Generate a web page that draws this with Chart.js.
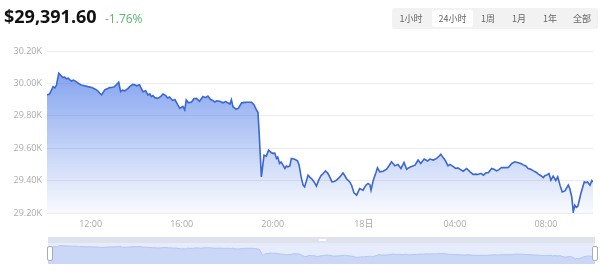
<!DOCTYPE html>
<html>
<head>
<meta charset="utf-8">
<script src="https://cdn.jsdelivr.net/npm/chart.js@4"></script>
<style>
  html, body { margin:0; padding:0; background:#fff; width:600px; height:273px; overflow:hidden; font-family:"Open Sans","Noto Sans",sans-serif; }
  #main { position:absolute; left:0; top:0; }
  .price { position:absolute; left:4px; top:4px; font-size:18px; font-weight:700; color:#111; letter-spacing:0; }
  .chg { position:absolute; left:105px; top:10px; font-size:12px; color:#5cb46c; }
  .btns { position:absolute; left:392px; top:8px; width:206px; height:21px; background:#f2f2f2; border-radius:2px; }
  .btn { position:absolute; top:0; height:21px; line-height:21px; font-size:9px; color:#666; text-align:center; font-family:"Noto Sans CJK SC","Noto Sans",sans-serif; }
  .btn.sel { background:#fff; top:2px; height:17px; line-height:17px; border-radius:2px; }
  #navWrap { position:absolute; left:48px; top:237px; width:547px; height:27px; background:#e6ecfb; }
  #navStrip { position:absolute; left:0; top:0; width:547px; height:6px; background:#dde2ec; }
  #navCanvas { position:absolute; left:0; top:6px; }
  .handle { position:absolute; top:246px; width:4px; height:13px; background:#fff; border:1px solid #aab; border-radius:2px; }
  .grip { position:absolute; left:319px; top:239px; width:7px; height:2px; background:#fff; border-radius:1px; }
</style>
</head>
<body>
<canvas id="main" width="600" height="273"></canvas>
<div class="price">$29,391.60</div>
<div class="chg">-1.76%</div>
<div class="btns" id="btns"></div>
<div id="navWrap"><div id="navStrip"></div><canvas id="navCanvas" width="547" height="21"></canvas></div>
<div class="grip"></div>
<div class="handle" style="left:47px"></div>
<div class="handle" style="left:592px"></div>
<script>
// minutes since 10:00 (17th)
const times = [5,12,21,26,30,36,41,47,51,56,61,69,75,82,88,95,104,113,123,131,138,144,149,157,165,170,178,183,189,194,199,204,210,218,223,231,236,241,249,253,258,265,271,276,280,284,289,297,305,311,318,323,328,336,342,349,355,363,368,372,378,386,392,399,407,416,423,429,436,442,447,452,460,469,476,487,491,495,504,510,518,526,534,544,550,557,561,564,570,574,577,583,589,595,601,605,610,613,618,622,627,632,636,640,645,649,658,665,669,671,675,680,684,693,698,702,709,715,721,727,733,739,745,750,756,762,768,777,781,785,790,794,803,808,814,821,826,829,838,845,851,856,859,865,872,876,882,891,900,906,913,922,930,938,946,953,959,964,975,983,990,999,1008,1014,1023,1032,1038,1043,1048,1054,1062,1067,1073,1082,1088,1093,1102,1111,1120,1128,1135,1141,1149,1155,1162,1168,1177,1183,1190,1196,1203,1212,1221,1230,1238,1247,1254,1260,1267,1273,1280,1287,1294,1300,1307,1313,1317,1322,1328,1333,1339,1346,1351,1357,1363,1370,1379,1383,1388,1392,1396,1400,1404,1408,1412,1421,1425,1430,1433,1436,1441,1444];
const prices = [29929,29935,29980,29972,29990,30063,30050,30036,30040,30028,30032,30015,30020,30011,30000,29990,29985,29980,29975,29966,29955,29939,29929,29960,29968,29974,29976,29980,29995,30007,29949,29958,29954,29968,29980,29994,29991,29985,29992,29970,29949,29955,29929,29935,29918,29925,29912,29908,29920,29935,29925,29910,29916,29895,29900,29870,29846,29858,29836,29898,29880,29885,29905,29908,29890,29919,29912,29922,29900,29895,29885,29893,29890,29880,29888,29873,29900,29856,29840,29848,29880,29883,29884,29884,29870,29836,29822,29700,29423,29500,29557,29551,29588,29575,29567,29570,29537,29545,29506,29515,29495,29475,29490,29485,29490,29537,29532,29522,29500,29475,29420,29372,29361,29434,29420,29413,29392,29366,29403,29430,29444,29460,29445,29423,29392,29395,29403,29423,29435,29448,29430,29413,29392,29370,29324,29310,29335,29351,29341,29370,29382,29375,29341,29403,29450,29479,29454,29458,29470,29490,29516,29491,29500,29475,29512,29470,29480,29485,29495,29527,29506,29533,29521,29533,29527,29537,29550,29562,29545,29527,29491,29500,29491,29475,29478,29471,29458,29475,29454,29438,29440,29438,29445,29434,29448,29448,29475,29470,29460,29468,29481,29480,29481,29506,29516,29510,29505,29497,29490,29475,29470,29460,29452,29440,29430,29419,29430,29434,29444,29403,29428,29400,29424,29372,29330,29336,29372,29350,29299,29206,29248,29235,29242,29280,29320,29392,29388,29392,29380,29372,29400,29391.6];
const tickValues = [120,360,600,840,1080,1320];
const tickLabels = ['12:00','16:00','20:00','18日','04:00','08:00'];
const yTicks = [29200,29400,29600,29800,30000,30200];
const rangeButtons = ['1小时','24小时','1周','1月','1年','全部'];
const selectedButton = '24小时';

// buttons
const btnPos = [[0,38],[40,41],[84,24],[112,30],[143,30],[175,30]];
const bc = document.getElementById('btns');
rangeButtons.forEach((t,i)=>{
  const d=document.createElement('div');
  d.className='btn'+(t===selectedButton?' sel':'');
  d.style.left=btnPos[i][0]+'px'; d.style.width=btnPos[i][1]+'px';
  d.textContent=t; bc.appendChild(d);
});

const pts = times.map((t,i)=>({x:t,y:prices[i]}));

new Chart(document.getElementById('main'), {
  type:'line',
  data:{ datasets:[{
    data: pts,
    borderColor:'#3a67d2',
    borderWidth:1.6,
    pointRadius:0,
    tension:0,
    fill:'start',
    backgroundColor:(ctx)=>{
      const ca = ctx.chart.chartArea;
      if(!ca) return 'rgba(60,110,230,0.4)';
      const g = ctx.chart.ctx.createLinearGradient(0,ca.top,0,ca.bottom);
      g.addColorStop(0,'rgba(60,110,230,0.72)');
      g.addColorStop(1,'rgba(60,110,230,0.03)');
      return g;
    }
  }]},
  options:{
    responsive:false, animation:false, devicePixelRatio:1,
    layout:{ padding:{ top:51, right:7, bottom:40, left:0 } },
    plugins:{ legend:{display:false}, tooltip:{enabled:false} },
    scales:{
      x:{
        type:'linear', min:5, max:1444,
        grid:{display:false, drawTicks:false},
        border:{display:false},
        afterBuildTicks:(s)=>{ s.ticks = tickValues.map(v=>({value:v})); },
        afterFit:(s)=>{ s.height = 20; },
        ticks:{ autoSkip:false, maxRotation:0, padding:6, color:'#aaa',
          font:{size:9, family:'"Open Sans","Noto Sans CJK SC",sans-serif'},
          callback:(v)=>{ const i=tickValues.indexOf(v); return i>=0?tickLabels[i]:''; } }
      },
      y:{
        min:29200, max:30200,
        grid:{ color:'#ececec', drawTicks:false, lineWidth:1 },
        border:{display:false},
        afterBuildTicks:(s)=>{ s.ticks = yTicks.map(v=>({value:v})); },
        afterFit:(s)=>{ s.width = 47; },
        ticks:{ padding:5, color:'#aaa', font:{size:9, family:'"Open Sans",sans-serif'},
          callback:(v)=> (v/1000).toFixed(2)+'K' }
      }
    }
  }
});

new Chart(document.getElementById('navCanvas'), {
  type:'line',
  data:{ datasets:[{ data: pts, borderColor:'#b3c5f0', borderWidth:1, pointRadius:0, tension:0,
    fill:'start', backgroundColor:'#cad7f6' }]},
  options:{
    responsive:false, animation:false, devicePixelRatio:1,
    layout:{padding:0},
    plugins:{ legend:{display:false}, tooltip:{enabled:false} },
    scales:{
      x:{ type:'linear', min:5, max:1444, display:false },
      y:{ min:28890, max:30220, display:false }
    }
  }
});
</script>
</body>
</html>
